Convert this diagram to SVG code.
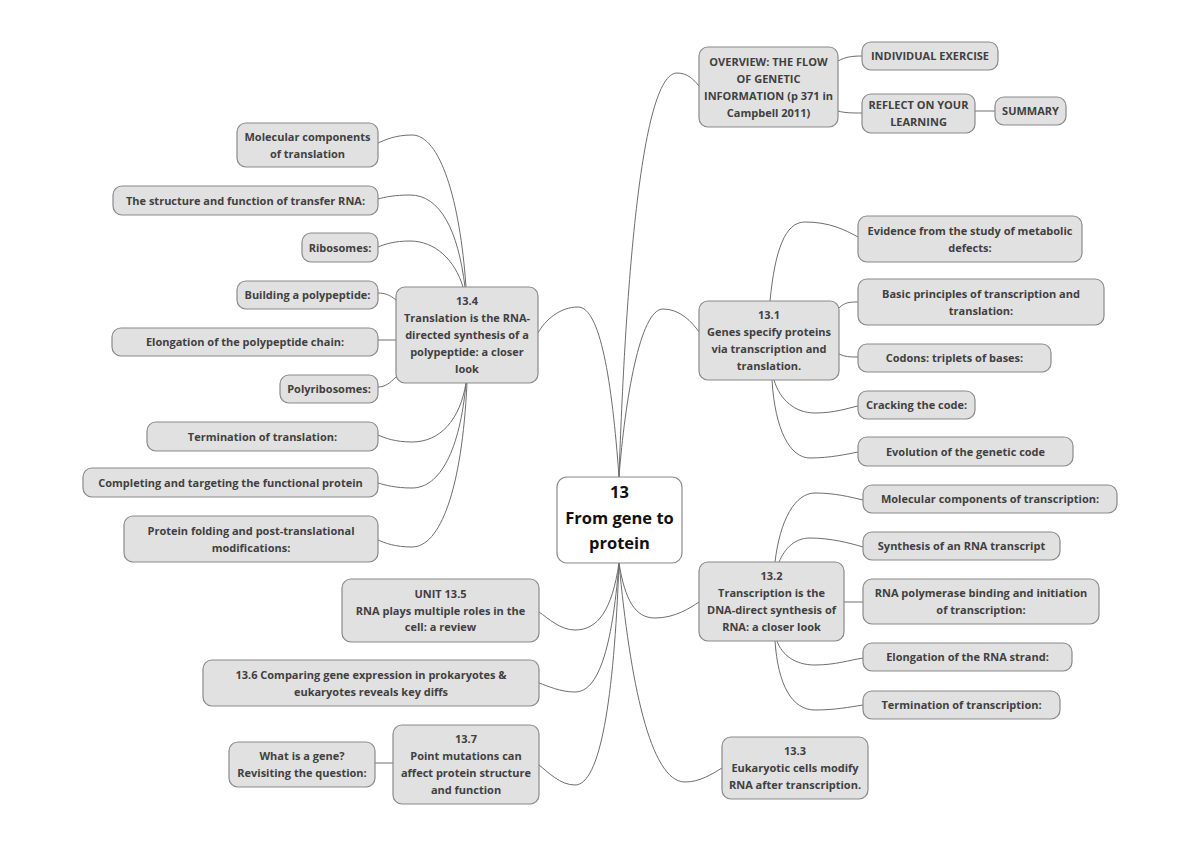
<svg xmlns="http://www.w3.org/2000/svg" width="1200" height="848" viewBox="0 0 1200 848">
<style>
  .box { fill: #e1e1e1; stroke: #8a8a8a; stroke-width: 1.2; }
  .root { fill: #ffffff; stroke: #8a8a8a; stroke-width: 1.2; }
  .t { font-family: "Open Sans", "Noto Sans", sans-serif; font-size: 11px; font-weight: 700; fill: #404040; text-anchor: middle; }
  .rt { font-family: "Open Sans", "Noto Sans", sans-serif; font-size: 16.5px; font-weight: 700; fill: #111111; text-anchor: middle; }
  .c { fill: none; stroke: #6e6e6e; stroke-width: 1; }
</style>
<rect width="1200" height="848" fill="#ffffff"/>
<g id="connectors">
  <path class="c" d="M 619 477 C 625 300, 640 73, 677 73 C 688 73, 694 80, 699 86"/>
  <path class="c" d="M 619 477 C 612 380, 600 307, 578 307 C 560 307, 545 320, 538 333"/>
  <path class="c" d="M 619 477 C 625 400, 640 309, 663 309 C 680 309, 692 322, 699 332"/>
  <path class="c" d="M 619 563 C 625 600, 635 618, 655 618 C 675 618, 690 608, 699 602"/>
  <path class="c" d="M 619 563 C 630 680, 650 782, 685 782 C 700 782, 712 774, 722 768"/>
  <path class="c" d="M 619 563 C 612 610, 598 630, 575 630 C 560 630, 548 618, 539 612"/>
  <path class="c" d="M 619 563 C 612 650, 598 692, 575 692 C 560 692, 548 686, 539 683"/>
  <path class="c" d="M 619 563 C 614 700, 600 785, 575 785 C 560 785, 548 772, 539 765"/>
  <path class="c" d="M 838 61 C 845 57, 852 56, 862 56"/>
  <path class="c" d="M 838 111 C 845 113, 852 113, 862 113"/>
  <path class="c" d="M 975 111 L 995 111"/>
  <path class="c" d="M 466 287 C 460 200, 440 135, 412 135 C 395 135, 385 140, 378 143"/>
  <path class="c" d="M 465 287 C 458 230, 440 195, 410 195 C 395 195, 385 197, 378 199"/>
  <path class="c" d="M 463 287 C 455 260, 435 241, 410 241 C 395 241, 385 244, 378 247"/>
  <path class="c" d="M 396 300 C 390 295, 385 293, 378 293"/>
  <path class="c" d="M 396 340 L 378 340"/>
  <path class="c" d="M 396 377 C 390 383, 385 387, 378 387"/>
  <path class="c" d="M 466 383 C 460 420, 440 442, 412 442 C 395 442, 385 438, 378 435"/>
  <path class="c" d="M 466 383 C 460 450, 440 488, 412 488 C 395 488, 385 485, 378 483"/>
  <path class="c" d="M 467 383 C 462 490, 440 547, 412 547 C 395 547, 385 543, 378 540"/>
  <path class="c" d="M 770 301 C 775 250, 785 222, 805 222 C 830 222, 845 230, 858 237"/>
  <path class="c" d="M 839 308 C 845 302, 850 302, 858 302"/>
  <path class="c" d="M 839 354 C 845 357, 850 357, 858 357"/>
  <path class="c" d="M 774 380 C 780 400, 795 413, 815 413 C 835 413, 848 408, 858 406"/>
  <path class="c" d="M 772 380 C 775 430, 790 458, 810 458 C 830 458, 848 454, 858 452"/>
  <path class="c" d="M 775 562 C 780 520, 795 493, 815 493 C 835 493, 850 497, 863 500"/>
  <path class="c" d="M 779 562 C 785 548, 795 538, 810 538 C 830 538, 850 543, 863 547"/>
  <path class="c" d="M 844 602 L 863 602"/>
  <path class="c" d="M 777 641 C 782 655, 795 665, 815 665 C 835 665, 850 660, 863 658"/>
  <path class="c" d="M 775 641 C 778 685, 792 710, 815 710 C 835 710, 850 707, 863 705"/>
  <path class="c" d="M 393 763 L 375 763"/>
</g>
<g id="root">
  <rect class="root" x="557" y="477" width="125" height="86" rx="10"/>
  <text class="rt" x="619.5" y="498">13</text>
  <text class="rt" x="619.5" y="524">From gene to</text>
  <text class="rt" x="619.5" y="549">protein</text>
</g>
<g id="overview">
  <rect class="box" x="699" y="47" width="139" height="80" rx="9"/>
  <text class="t" x="768.5" y="65.5">OVERVIEW: THE FLOW</text>
  <text class="t" x="768.5" y="82.5">OF GENETIC</text>
  <text class="t" x="768.5" y="99.5">INFORMATION (p 371 in</text>
  <text class="t" x="768.5" y="116.5">Campbell 2011)</text>
</g>
<g id="individual">
  <rect class="box" x="862" y="42" width="136" height="28" rx="9"/>
  <text class="t" x="930" y="60">INDIVIDUAL EXERCISE</text>
</g>
<g id="reflect">
  <rect class="box" x="862" y="94" width="113" height="39" rx="9"/>
  <text class="t" x="918.5" y="109">REFLECT ON YOUR</text>
  <text class="t" x="918.5" y="126">LEARNING</text>
</g>
<g id="summary">
  <rect class="box" x="995" y="97" width="71" height="28" rx="9"/>
  <text class="t" x="1030.5" y="115">SUMMARY</text>
</g>
<g id="n134">
  <rect class="box" x="396" y="287" width="142" height="96" rx="9"/>
  <text class="t" x="467" y="305.4">13.4</text>
  <text class="t" x="467" y="322.2">Translation is the RNA-</text>
  <text class="t" x="467" y="339">directed synthesis of a</text>
  <text class="t" x="467" y="355.8">polypeptide: a closer</text>
  <text class="t" x="467" y="372.6">look</text>
</g>
<g id="molcomp-translation">
  <rect class="box" x="237" y="123" width="141" height="44" rx="9"/>
  <text class="t" x="307.5" y="140.5">Molecular components</text>
  <text class="t" x="307.5" y="157.5">of translation</text>
</g>
<g id="trna">
  <rect class="box" x="113" y="186" width="265" height="29" rx="9"/>
  <text class="t" x="245.5" y="204.5">The structure and function of transfer RNA:</text>
</g>
<g id="ribosomes">
  <rect class="box" x="302" y="233" width="76" height="29" rx="9"/>
  <text class="t" x="340" y="251.5">Ribosomes:</text>
</g>
<g id="building">
  <rect class="box" x="237" y="281" width="141" height="28" rx="9"/>
  <text class="t" x="307.5" y="299">Building a polypeptide:</text>
</g>
<g id="elong-poly">
  <rect class="box" x="112" y="328" width="266" height="28" rx="9"/>
  <text class="t" x="245" y="346">Elongation of the polypeptide chain:</text>
</g>
<g id="polyribosomes">
  <rect class="box" x="280" y="375" width="98" height="28" rx="9"/>
  <text class="t" x="329" y="393">Polyribosomes:</text>
</g>
<g id="term-translation">
  <rect class="box" x="147" y="422" width="231" height="29" rx="9"/>
  <text class="t" x="262.5" y="440.5">Termination of translation:</text>
</g>
<g id="completing">
  <rect class="box" x="83" y="468" width="295" height="29" rx="9"/>
  <text class="t" x="230.5" y="486.5">Completing and targeting the functional protein</text>
</g>
<g id="folding">
  <rect class="box" x="124" y="516" width="254" height="46" rx="9"/>
  <text class="t" x="251" y="534.5">Protein folding and post-translational</text>
  <text class="t" x="251" y="551.5">modifications:</text>
</g>
<g id="n131">
  <rect class="box" x="699" y="301" width="140" height="79" rx="9"/>
  <text class="t" x="769" y="319.3">13.1</text>
  <text class="t" x="769" y="336.1">Genes specify proteins</text>
  <text class="t" x="769" y="352.9">via transcription and</text>
  <text class="t" x="769" y="369.7">translation.</text>
</g>
<g id="evidence">
  <rect class="box" x="858" y="216" width="224" height="46" rx="9"/>
  <text class="t" x="970" y="234.5">Evidence from the study of metabolic</text>
  <text class="t" x="970" y="251.5">defects:</text>
</g>
<g id="basic">
  <rect class="box" x="858" y="279" width="246" height="46" rx="9"/>
  <text class="t" x="981" y="297.5">Basic principles of transcription and</text>
  <text class="t" x="981" y="314.5">translation:</text>
</g>
<g id="codons">
  <rect class="box" x="858" y="344" width="193" height="28" rx="9"/>
  <text class="t" x="954.5" y="362">Codons: triplets of bases:</text>
</g>
<g id="cracking">
  <rect class="box" x="858" y="391" width="117" height="28" rx="9"/>
  <text class="t" x="916.5" y="409">Cracking the code:</text>
</g>
<g id="evolution">
  <rect class="box" x="858" y="437" width="215" height="29" rx="9"/>
  <text class="t" x="965.5" y="455.5">Evolution of the genetic code</text>
</g>
<g id="n132">
  <rect class="box" x="699" y="562" width="145" height="79" rx="9"/>
  <text class="t" x="771.5" y="580.3">13.2</text>
  <text class="t" x="771.5" y="597.1">Transcription is the</text>
  <text class="t" x="771.5" y="613.9">DNA-direct synthesis of</text>
  <text class="t" x="771.5" y="630.7">RNA: a closer look</text>
</g>
<g id="molcomp-transcription">
  <rect class="box" x="863" y="485" width="254" height="28" rx="9"/>
  <text class="t" x="990" y="503">Molecular components of transcription:</text>
</g>
<g id="synthesis">
  <rect class="box" x="863" y="532" width="197" height="28" rx="9"/>
  <text class="t" x="961.5" y="550">Synthesis of an RNA transcript</text>
</g>
<g id="rnapol">
  <rect class="box" x="863" y="579" width="236" height="45" rx="9"/>
  <text class="t" x="981" y="597">RNA polymerase binding and initiation</text>
  <text class="t" x="981" y="614">of transcription:</text>
</g>
<g id="elong-rna">
  <rect class="box" x="863" y="643" width="209" height="28" rx="9"/>
  <text class="t" x="967.5" y="661">Elongation of the RNA strand:</text>
</g>
<g id="term-transcription">
  <rect class="box" x="863" y="691" width="197" height="28" rx="9"/>
  <text class="t" x="961.5" y="709">Termination of transcription:</text>
</g>
<g id="n133">
  <rect class="box" x="722" y="737" width="146" height="62" rx="9"/>
  <text class="t" x="795" y="755.2">13.3</text>
  <text class="t" x="795" y="772">Eukaryotic cells modify</text>
  <text class="t" x="795" y="788.8">RNA after transcription.</text>
</g>
<g id="n135">
  <rect class="box" x="342" y="579" width="197" height="63" rx="9"/>
  <text class="t" x="440.5" y="597.7">UNIT 13.5</text>
  <text class="t" x="440.5" y="614.5">RNA plays multiple roles in the</text>
  <text class="t" x="440.5" y="631.3">cell: a review</text>
</g>
<g id="n136">
  <rect class="box" x="203" y="660" width="336" height="46" rx="9"/>
  <text class="t" x="371" y="678.5">13.6 Comparing gene expression in prokaryotes &amp;</text>
  <text class="t" x="371" y="695.5">eukaryotes reveals key diffs</text>
</g>
<g id="n137">
  <rect class="box" x="393" y="725" width="146" height="79" rx="9"/>
  <text class="t" x="466" y="743.3">13.7</text>
  <text class="t" x="466" y="760.1">Point mutations can</text>
  <text class="t" x="466" y="776.9">affect protein structure</text>
  <text class="t" x="466" y="793.7">and function</text>
</g>
<g id="whatgene">
  <rect class="box" x="229" y="742" width="146" height="45" rx="9"/>
  <text class="t" x="302" y="760">What is a gene?</text>
  <text class="t" x="302" y="777">Revisiting the question:</text>
</g>
</svg>
